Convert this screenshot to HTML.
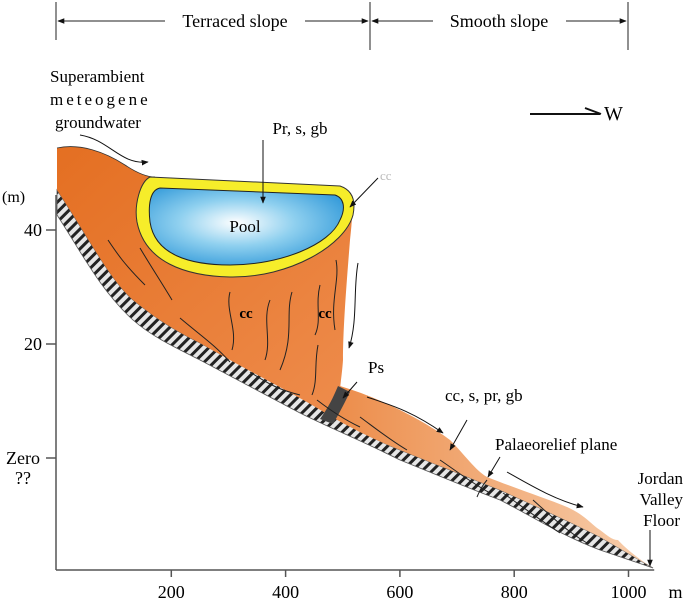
<!DOCTYPE html>
<html><head><meta charset="utf-8"><style>
html,body{margin:0;padding:0;background:#fff;}
svg{display:block;font-family:"Liberation Serif",serif;}
</style></head><body>
<svg id="chart" width="685" height="602" viewBox="0 0 685 602">
<defs>
<pattern id="hatch" width="7" height="7" patternUnits="userSpaceOnUse" patternTransform="rotate(45)">
<rect width="7" height="7" fill="#e6e6e6"/><rect width="3" height="7" fill="#222"/>
</pattern>
<radialGradient id="water" cx="0.45" cy="0.45" r="0.6"><stop offset="0" stop-color="#fff"/><stop offset="0.5" stop-color="#8fd0ef"/><stop offset="1" stop-color="#3a9edb"/></radialGradient>
<linearGradient id="tail" x1="0" x2="1" y1="0" y2="0"><stop offset="0" stop-color="#ec8a46"/><stop offset="1" stop-color="#f7cfae"/></linearGradient>
<linearGradient id="body" x1="0" x2="1" y1="0" y2="1"><stop offset="0" stop-color="#e46f22"/><stop offset="1" stop-color="#ee8c4c"/></linearGradient>
<marker id="ah" viewBox="0 0 10 10" refX="9" refY="5" markerWidth="7" markerHeight="7" orient="auto-start-reverse"><path d="M0,1 L10,5 L0,9 z" fill="#111"/></marker>
</defs>
<g stroke="#222" stroke-width="1">
<line x1="56" y1="2" x2="56" y2="40"/><line x1="370" y1="2" x2="370" y2="50"/><line x1="628" y1="2" x2="628" y2="50"/>
<line x1="58" y1="21" x2="165" y2="21" marker-start="url(#ah)"/><line x1="305" y1="21" x2="368" y2="21" marker-end="url(#ah)"/>
<line x1="372" y1="21" x2="433" y2="21" marker-start="url(#ah)"/><line x1="566" y1="21" x2="626" y2="21" marker-end="url(#ah)"/>
</g>
<text x="235" y="27" font-size="18" text-anchor="middle">Terraced slope</text>
<text x="499" y="27" font-size="18" text-anchor="middle">Smooth slope</text>
<text x="50" y="82" font-size="17"><tspan x="50">Superambient</tspan><tspan x="50" dy="23" letter-spacing="3">meteogene</tspan><tspan x="55" dy="23">groundwater</tspan></text>
<line x1="530" y1="114" x2="600" y2="114" stroke="#111" stroke-width="2"/>
<path d="M585,108 L601,114" stroke="#111" stroke-width="2"/>
<text x="604" y="120" font-size="20">W</text>
<!-- bedrock -->
<path d="M57,190 C90,240 110,280 133,300 C160,322 180,333 200,343 L300,397 C340,420 370,438 400,450 C440,466 470,478 500,490 C540,508 570,522 600,537 L653,568 L600,550 C560,535 530,515 500,500 C460,485 430,472 400,460 C360,440 330,428 300,413 L200,360 C170,345 150,335 133,320 C100,290 80,250 57,215 Z" fill="url(#hatch)" stroke="#555" stroke-width="0.8"/>
<!-- tail deposit -->
<path d="M340,386 C360,392 380,400 400,410 C420,420 440,432 450,440 C465,455 475,470 487,477 C520,490 545,498 567,507 C585,515 592,525 600,530 C608,536 612,540 618,540 C625,548 640,560 653,568 L600,537 C570,522 540,508 500,490 C470,478 440,466 400,450 C370,438 345,425 322,411 Z" fill="url(#tail)"/>
<!-- main orange body -->
<path d="M57,148 C80,143 105,152 125,165 C140,175 150,177 155,177 L345,190 C355,200 352,220 350,240 C346,290 343,330 343,360 C342,375 340,385 340,392 L322,411 C300,397 250,372 200,343 C180,333 160,322 133,300 C110,280 90,240 57,190 Z" fill="url(#body)"/>
<path d="M57,148 C80,143 105,152 125,165 C140,175 150,177 155,177" fill="none" stroke="#333" stroke-width="0.8"/>
<!-- pool -->
<path d="M150,177 L340,186 C352,190 356,200 353,215 C345,245 290,278 230,277 C185,276 145,262 137,222 C134,205 140,182 150,177 Z" fill="#f6ed2a" stroke="#333" stroke-width="1"/>
<path d="M160,188 L335,195 C344,198 346,208 340,220 C330,245 280,265 230,265 C190,265 155,255 150,222 C148,205 150,190 160,188 Z" fill="url(#water)" stroke="#222" stroke-width="1"/>
<text x="245" y="232" font-size="17" text-anchor="middle">Pool</text>
<path d="M338,386 L350,392 C345,402 340,412 333,424 L320,419 C328,408 333,398 338,386 Z" fill="#444"/>
<g fill="none" stroke="#222" stroke-width="1">
<path d="M108,240 C118,255 125,265 145,285"/><path d="M140,248 C150,265 160,280 172,300"/><path d="M230,292 C225,310 238,330 232,350"/><path d="M270,300 C262,320 272,340 265,360"/><path d="M292,292 C285,315 295,335 280,370"/><path d="M320,285 C315,305 322,320 315,335"/><path d="M336,260 C340,280 330,300 335,330"/><path d="M180,318 C200,335 215,345 230,362"/><path d="M250,372 C270,385 280,390 300,395"/><path d="M318,345 C314,365 318,380 312,395"/>
<path d="M317,400 C330,410 345,420 360,427"/><path d="M360,417 C375,428 390,440 407,450"/><path d="M440,460 C455,470 470,482 490,493"/><path d="M503,493 C520,505 540,520 560,533"/><path d="M533,500 C550,515 565,530 587,543"/><path d="M487,480 C482,486 480,490 477,497"/>
</g>
<g fill="none" stroke="#111" stroke-width="1">
<path d="M80,135 C110,140 120,165 148,162" marker-end="url(#ah)"/>
<path d="M263,140 L263,203" marker-end="url(#ah)"/>
<path d="M378,178 L350,207" marker-end="url(#ah)"/>
<path d="M358,263 C353,290 358,320 349,348" marker-end="url(#ah)"/>
<path d="M357,382 L343,398" marker-end="url(#ah)"/>
<path d="M367,397 C390,405 410,410 443,433" marker-end="url(#ah)"/>
<path d="M467,420 L450,450" marker-end="url(#ah)"/>
<path d="M500,457 L488,477" marker-end="url(#ah)"/>
<path d="M507,472 C530,485 555,500 583,507" marker-end="url(#ah)"/>
<path d="M650,530 L650,566" marker-end="url(#ah)"/>
</g>
<text x="300" y="134" font-size="17" text-anchor="middle">Pr, s, gb</text>
<text x="380" y="180" font-size="13" fill="#bbb">cc</text>
<text x="246" y="318" font-size="15" font-weight="bold" text-anchor="middle">cc</text>
<text x="325" y="318" font-size="15" font-weight="bold" text-anchor="middle">cc</text>
<text x="368" y="373" font-size="17">Ps</text>
<text x="445" y="401" font-size="17">cc, s, pr, gb</text>
<text x="495" y="450" font-size="17">Palaeorelief plane</text>
<text x="683" y="484" font-size="17" text-anchor="end"><tspan x="683">Jordan</tspan><tspan x="683" dy="21">Valley</tspan><tspan x="680" dy="21">Floor</tspan></text>
<g id="axes"></g>
</svg>
<script>
const xTicks=[200,400,600,800,1000];
const xTickLabels=["200","400","600","800","1000"];
const yTicks=[0,20,40];
const yTickLabels=["Zero","20","40"];
const X0=57,XS=114.3/200,YZ=458,YS=114/20;
const xs=v=>X0+v*XS, ys=v=>YZ-v*YS;
const ns="http://www.w3.org/2000/svg";
const g=document.getElementById('axes');
function mk(t,a){const e=document.createElementNS(ns,t);for(const k in a)e.setAttribute(k,a[k]);g.appendChild(e);return e;}
const ya=mk('line',{x1:56,y1:195,x2:56,y2:570,stroke:'#555','stroke-width':1.5});


const xa=mk('line',{x1:56,y1:570,x2:xs(1045),y2:570,stroke:'#555','stroke-width':1.5});


xTicks.forEach((v,i)=>{
 mk('line',{x1:xs(v),y1:570,x2:xs(v),y2:577,stroke:'#555','stroke-width':1.5});
 const t=mk('text',{x:xs(v),y:598,'font-size':18,'text-anchor':'middle'});
 t.textContent=xTickLabels[i];
 
 
});
yTicks.forEach((v,i)=>{
 mk('line',{x1:46,y1:ys(v),x2:56,y2:ys(v),stroke:'#555','stroke-width':1.5});
 const t=mk('text',{x:v===0?23:42,y:ys(v)+6,'font-size':18,'text-anchor':v===0?'middle':'end'});
 t.textContent=yTickLabels[i];
 
 
});
const q=mk('text',{x:23,y:ys(0)+26,'font-size':18,'text-anchor':'middle'});q.textContent='??';


const m=mk('text',{x:2,y:202,'font-size':16});m.textContent='(m)';


const mx=mk('text',{x:xs(1070),y:598,'font-size':18});mx.textContent='m';


</script>
</body></html>
